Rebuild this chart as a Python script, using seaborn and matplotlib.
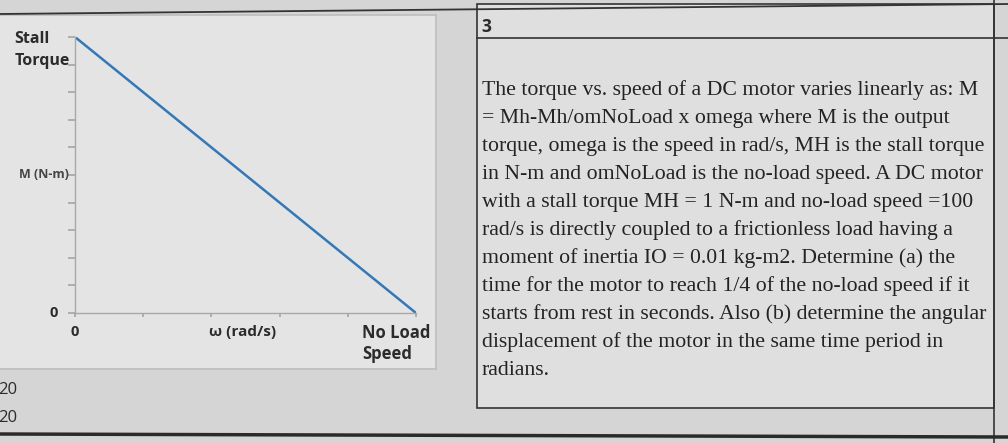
import numpy as np
import pandas as pd
import matplotlib
matplotlib.use('Agg')
import matplotlib.pyplot as plt
from matplotlib.lines import Line2D
from matplotlib.patches import Rectangle
import seaborn as sns

# --- data ---
speed = [0, 100]          # rad/s (0 -> no load speed)
torque = [1.0, 0.0]       # N-m (stall torque -> 0)
y_ticks = np.arange(0, 1.01, 0.1)
x_ticks = [0, 20, 40, 60, 80, 100]

problem_number = "3"
problem_lines = [
    "The torque vs. speed of a DC motor varies linearly as: M",
    "= Mh-Mh/omNoLoad x omega where M is the output",
    "torque, omega is the speed in rad/s, MH is the stall torque",
    "in N-m and omNoLoad is the no-load speed. A DC motor",
    "with a stall torque MH = 1 N-m and no-load speed =100",
    "rad/s is directly coupled to a frictionless load having a",
    "moment of inertia IO = 0.01 kg-m2. Determine (a) the",
    "time for the motor to reach 1/4 of the no-load speed if it",
    "starts from rest in seconds. Also (b) determine the angular",
    "displacement of the motor in the same time period in",
    "radians.",
]
left_labels = ["20", "20"]

W, H = 1008, 443


def fx(x):
    return x / W


def fy(y):
    return 1 - y / H


sns.set_theme(style='white')
plt.rcParams['font.family'] = ['Open Sans', 'DejaVu Sans']

fig = plt.figure(figsize=(W / 100, H / 100), dpi=100)
fig.patch.set_facecolor('#d5d5d5')

# chart frame
fig.patches.append(Rectangle((fx(-2), fy(369)), fx(438), 354 / H, transform=fig.transFigure,
                             facecolor='#e4e4e4', edgecolor='#bdbdbd', lw=1.2, zorder=0))
# text cell
fig.patches.append(Rectangle((fx(477), fy(408)), fx(994 - 477), (408 - 4) / H, transform=fig.transFigure,
                             facecolor='#dfdfdf', edgecolor='#333333', lw=1.2, zorder=0))
# table lines
fig.lines.append(Line2D([fx(0), fx(1008)], [fy(14), fy(4)], transform=fig.transFigure, color='#333333', lw=1.3))
fig.lines.append(Line2D([fx(477), fx(1008)], [fy(38), fy(38)], transform=fig.transFigure, color='#333333', lw=1.2))
fig.lines.append(Line2D([fx(994), fx(994)], [fy(0), fy(443)], transform=fig.transFigure, color='#333333', lw=1.2))
fig.lines.append(Line2D([fx(0), fx(1008)], [fy(434), fy(437)], transform=fig.transFigure, color='#2a2a2a', lw=2.5))

# plot area
ax = fig.add_axes([fx(75), fy(313), fx(416 - 75), (313 - 37) / H])
ax.set_zorder(3)
ax.set_facecolor('none')
df = pd.DataFrame({'speed': speed, 'torque': torque})
sns.lineplot(data=df, x='speed', y='torque', ax=ax, color='#3478b8', linewidth=1.8)
ax.set_xlim(0, 100)
ax.set_ylim(0, 1)
ax.set_xlabel('')
ax.set_ylabel('')
for s in ['top', 'right']:
    ax.spines[s].set_visible(False)
for s in ['left', 'bottom']:
    ax.spines[s].set_color('#a8a8a8')
    ax.spines[s].set_linewidth(1.0)
ax.set_yticks(y_ticks)
ax.set_xticks(x_ticks)
ax.set_yticklabels([])
ax.set_xticklabels([])
ax.tick_params(axis='y', length=5, color='#a8a8a8', direction='out', left=True)
ax.tick_params(axis='x', length=3, color='#a8a8a8', direction='out', bottom=True)

lab = dict(fontweight='bold', color='#2b2b2b', clip_on=False)
ax.text(-1.5, 1.02, "Stall\nTorque", ha='right', va='top', multialignment='left',
        fontsize=11.5, linespacing=1.45, **lab)
ax.text(-1.8, 0.5, "M (N-m)", ha='right', va='center', fontsize=9, **{**lab, 'color': '#444444'})
ax.text(-5, 0.0, "0", ha='right', va='center', fontsize=10.5, **lab)
ax.text(0, -0.045, "0", ha='center', va='top', fontsize=10.5, **lab)
ax.text(49, -0.045, "ω (rad/s)", ha='center', va='top', fontsize=11, **lab)
ax.text(84.3, -0.04, "No Load\nSpeed", ha='left', va='top', multialignment='left',
        fontsize=12, linespacing=1.2, **lab)

# problem text
fig.text(fx(481), fy(27), problem_number, ha='left', va='center', fontsize=12.5, fontweight='bold', color='#2b2b2b')
for i, line in enumerate(problem_lines):
    fig.text(fx(482), fy(95 + 28 * i), line, ha='left', va='baseline', fontsize=15.7,
             family=['Liberation Serif', 'DejaVu Serif'], color='#232323')

for i, t in enumerate(left_labels):
    fig.text(fx(17), fy(390 + 28 * i), t, ha='right', va='center', fontsize=12, color='#2b2b2b')

fig.savefig('out.png', dpi=100, facecolor=fig.get_facecolor())
